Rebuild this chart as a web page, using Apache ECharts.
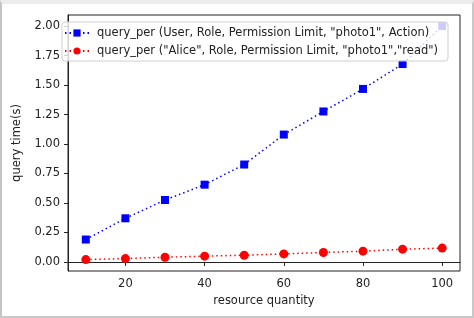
<!DOCTYPE html>
<html>
<head>
<meta charset="utf-8">
<script src="https://cdn.jsdelivr.net/npm/echarts@6/dist/echarts.min.js"></script>
<style>
html,body{margin:0;padding:0;background:#fff;}
#c{position:absolute;left:0;top:0;width:474px;height:318px;box-sizing:border-box;
border-left:2px solid #c4c4c4;border-top:4px solid #ececec;border-right:2px solid #c8c8c8;border-bottom:2px solid #c8c8c8;background:#fff;}
</style>
</head>
<body>
<div id="c"></div>
<script>
const resourceQuantity = [10, 20, 30, 40, 50, 60, 70, 80, 90, 100];
const seriesUserRole = [0.19, 0.37, 0.525, 0.655, 0.826, 1.08, 1.276, 1.467, 1.678, 2.0];
const seriesAliceRole = [0.02, 0.028, 0.04, 0.049, 0.057, 0.068, 0.08, 0.091, 0.108, 0.117];
const seriesNames = [
  'query_per (User, Role, Permission Limit, "photo1", Action)',
  'query_per ("Alice", Role, Permission Limit, "photo1","read")'
];
const xTicks = [20, 40, 60, 80, 100];
const yTicks = [0, 0.25, 0.5, 0.75, 1.0, 1.25, 1.5, 1.75, 2.0];
const xTitle = 'resource quantity';
const yTitle = 'query time(s)';

const FONT = 'DejaVu Sans';
const chart = echarts.init(document.getElementById('c'));
const pairs = (ys) => resourceQuantity.map((x, i) => [x, ys[i]]);
chart.setOption({
  animation: false,
  backgroundColor: '#fff',
  textStyle: { fontFamily: FONT },
  grid: { left: 66, right: 12, top: 11, bottom: 45, show: true, borderColor: '#222', borderWidth: 1, backgroundColor: 'transparent' },
  legend: {
    orient: 'vertical',
    left: 60, top: 18,
    padding: [5, 10, 4, 2],
    itemGap: 6,
    itemWidth: 24, itemHeight: 9,
    backgroundColor: 'rgba(255,255,255,0.8)',
    borderColor: '#d0d0d0', borderWidth: 1, borderRadius: 3,
    textStyle: { fontFamily: FONT, fontSize: 11.5, color: '#222', padding: [0, 0, 0, 3] },
    data: seriesNames
  },
  xAxis: {
    type: 'value', min: 5.5, max: 104.5,
    name: xTitle, nameLocation: 'middle', nameGap: 23,
    nameTextStyle: { fontFamily: FONT, fontSize: 11.5, color: '#222' },
    splitLine: { show: false },
    axisLine: { show: true, lineStyle: { color: '#222' } },
    axisTick: { show: true, length: 4, lineStyle: { color: '#222' }, customValues: xTicks },
    axisLabel: { customValues: xTicks, margin: 7, fontFamily: FONT, fontSize: 11.5, color: '#222' }
  },
  yAxis: {
    type: 'value', min: -0.077, max: 2.094,
    name: yTitle, nameLocation: 'middle', nameGap: 43,
    nameTextStyle: { fontFamily: FONT, fontSize: 11.5, color: '#222' },
    splitLine: { show: false },
    axisLine: { show: true, lineStyle: { color: '#222' } },
    axisTick: { show: true, length: 4, lineStyle: { color: '#222' }, customValues: yTicks },
    axisLabel: { customValues: yTicks, margin: 8, fontFamily: FONT, fontSize: 11.5, color: '#222',
      formatter: v => v.toFixed(2) }
  },
  series: [
    {
      name: seriesNames[0], type: 'line', data: pairs(seriesUserRole),
      symbol: 'rect', symbolSize: 8,
      itemStyle: { color: '#0000ff' },
      lineStyle: { color: '#0000ff', width: 1.5, type: [1.5, 3] }
    },
    {
      name: seriesNames[1], type: 'line', data: pairs(seriesAliceRole),
      symbol: 'circle', symbolSize: 9,
      itemStyle: { color: '#ff0000' },
      lineStyle: { color: '#ff0000', width: 1.5, type: [1.5, 3] }
    }
  ]
});
</script>
</body>
</html>
